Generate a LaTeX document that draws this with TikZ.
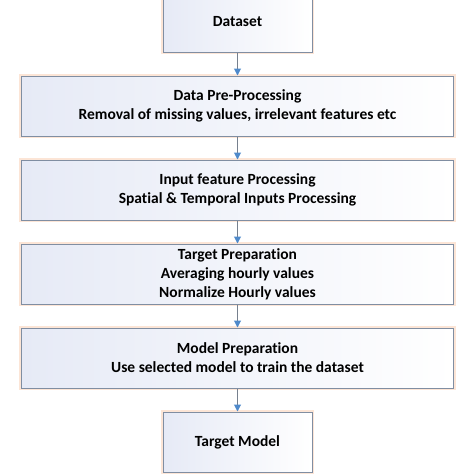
\documentclass[tikz,border=0pt]{standalone}
\usepackage{fontspec}
\setmainfont{Carlito}[Ligatures=NoCommon]
\definecolor{boxfill}{RGB}{230, 234, 246}
\definecolor{boxline}{RGB}{128, 142, 162}
\definecolor{glow}{RGB}{252, 229, 214}
\definecolor{arrowblue}{RGB}{79, 138, 203}
\definecolor{arrowline}{RGB}{118, 128, 142}
\usetikzlibrary{positioning, arrows.meta}
\tikzset{
    stagebox/.style={draw=boxline, line width=1pt, left color=boxfill,
        right color=white, minimum height=60pt, align=center,
        font=\bfseries\fontsize{15.5}{19}\selectfont,
        preaction={draw=glow, line width=4.5pt}},
    widebox/.style={stagebox, minimum width=432pt},
    narrowbox/.style={stagebox, minimum width=149pt},
    flow/.style={draw=arrowline, line width=1pt,
        -{Triangle[color=arrowblue, length=7pt, width=7pt]}},
}

\begin{document}
\begin{tikzpicture}[x=1pt, y=-1pt]
            \useasboundingbox (0, 0) rectangle (474, 474);
            \node[narrowbox] (dataset) at (237.5, 22) {Dataset};
            \node[widebox, below=23pt of dataset] (preproc)
                {Data Pre-Processing\\Removal of missing values, irrelevant features etc};
            \node[widebox, below=23pt of preproc] (inputproc)
                {Input feature Processing\\Spatial \& Temporal Inputs Processing};
            \node[widebox, below=23pt of inputproc] (targetprep)
                {Target Preparation\\Averaging hourly values\\Normalize Hourly values};
            \node[widebox, below=23pt of targetprep] (modelprep)
                {Model Preparation\\Use selected model to train the dataset};
            \node[narrowbox, below=23pt of modelprep] (targetmodel) {Target Model};
            \foreach \from/\to in {dataset/preproc, preproc/inputproc,
                inputproc/targetprep, targetprep/modelprep, modelprep/targetmodel}
                \draw[flow] (\from) -- (\to);
        \end{tikzpicture}
\end{document}
